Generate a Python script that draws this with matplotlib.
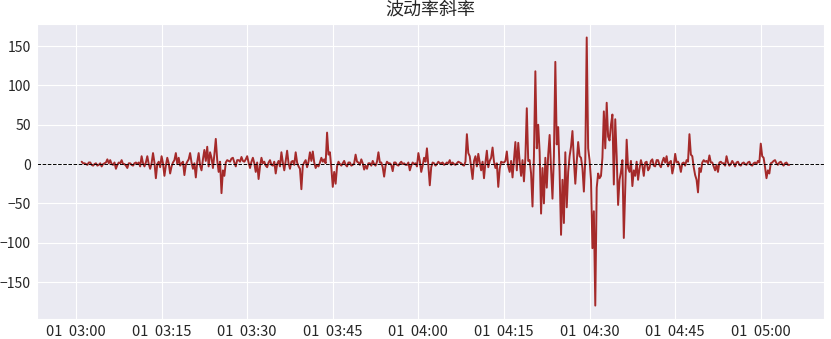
import numpy as np
import pandas as pd
import matplotlib
matplotlib.use("Agg")
import matplotlib.pyplot as plt
import matplotlib.dates as mdates
import seaborn as sns

sns.set_style("darkgrid")
plt.rcParams['font.family'] = ['Noto Sans CJK SC', 'DejaVu Sans']
plt.rcParams['axes.unicode_minus'] = True

# 15-second samples, 03:01 -> 05:05
start_time = "2024-03-01 03:01:00"
slope = [
    3, 1, 1, 0, -1, 2, 2, -1, -2, 0, 1, -2, -1, 1, -3, 0, 1, 2, 6, 1,
    5, 0, -1, 2, -6, -1, 2, 1, 5, 0, 0, -2, -5, 1, 1, -1, -2, 1, 2, 0,
    2, -3, 10, 1, -3, 2, 10, 0, -6, 1, 14, 2, -18, 0, 3, -4, 10, 1, -15, -2,
    8, 1, -12, -3, 2, 5, 14, 0, 8, -2, 1, 3, -14, -1, 3, 6, 14, 2, -6, 1,
    -17, 3, 14, -2, -8, 6, 18, 4, 22, -3, 15, 8, -5, 12, 32, 5, -10, 3, -37, -8,
    -15, 2, 5, 4, 3, 7, 8, 2, -3, 5, 5, 3, 9, 4, 3, 6, 10, 2, -5, 3,
    8, 1, -10, 2, -19, -3, 8, 1, 3, -2, -4, 2, 5, -1, -2, 3, -12, 0, 4, -3,
    15, 2, -8, 4, 17, 1, -6, 3, 4, -1, 15, 2, -3, -6, -32, -2, 2, 5, -4, 3,
    15, 4, 16, 2, -5, -1, -3, 2, 8, 3, 6, 1, 40, 12, 15, -5, -29, -10, -25, -3,
    3, 0, -2, 1, 4, -1, -3, 2, 2, -2, -1, 1, 12, 3, 2, -1, 6, 1, -7, -2,
    -6, 1, 1, -2, 4, 0, -2, 3, 15, 2, 2, -4, -16, -2, 3, 1, 1, -1, -9, 2,
    2, -1, -2, 1, 3, 0, 1, -1, -1, 2, -8, -2, 2, 0, 1, -3, 14, 4, -10, -2,
    8, 3, 20, -2, -27, -4, 2, 1, -2, 0, 3, 1, 1, 2, -1, 0, 2, 1, 5, -1,
    2, 0, -1, 1, 3, 2, 1, -1, -2, 3, 38, 14, 10, -5, -19, 4, 10, -3, 13, 2,
    -8, 3, -18, 2, 17, -4, 4, 8, 21, 3, -5, 1, -29, -6, 3, 2, 2, 4, 16, -3,
    -10, 4, -17, 6, 28, -8, 27, 3, -15, 5, -22, 8, 71, 4, 5, -12, -54, 10, 118, 20,
    50, 15, -63, -5, -50, 8, -30, 12, 37, -6, -44, 10, 130, 25, 47, -10, -90, -20, -75, 15,
    -55, -10, 10, 22, 42, 5, -25, 3, 28, 10, 8, -5, -35, 6, 161, 20, 5, -20, -107, -60,
    -180, -30, -12, -18, -15, 8, 67, 20, 78, 35, 30, 50, 63, -26, 57, 10, -52, -20, -10, 5,
    -94, -30, 31, -5, -10, 4, -28, -8, -15, 3, -20, -6, 5, -2, -15, 2, 3, -8, -5, 4,
    6, -2, -3, 5, 5, -1, -4, 3, 8, 2, 10, -3, 2, 4, -12, -3, 13, 2, 3, -1,
    -10, 1, 2, -2, 5, 3, 38, 12, 10, -4, -14, -20, -36, -5, -10, 2, 5, 3, 4, 1,
    11, 2, 2, -3, -8, -1, -10, 2, 3, 1, 1, -2, 10, 2, -2, 0, 4, 1, -3, 2,
    3, -1, -2, 1, 2, 0, -1, 2, 3, -1, -2, 1, 2, 0, 4, 2, 26, 10, 8, -4,
    -18, -8, -12, 1, 2, 4, 5, 1, -1, 2, 3, 0, -2, 1, 2, -1, -1,
]
times = pd.date_range(start_time, periods=len(slope), freq="15s")

fig, ax = plt.subplots(figsize=(8.31, 3.39), dpi=100)
fig.subplots_adjust(left=0.0445, right=0.9916, bottom=0.059, top=0.929)

ax.plot(times, slope, color='#a52a2a', lw=1.4)
ax.axhline(0, color='black', ls='--', lw=0.7)
ax.set_title("波动率斜率", fontsize=13)

ax.set_xlim(pd.Timestamp("2024-03-01 02:53:10"), pd.Timestamp("2024-03-01 05:11:05"))
ax.xaxis.set_major_locator(mdates.MinuteLocator(byminute=[0, 15, 30, 45]))
ax.xaxis.set_major_formatter(mdates.DateFormatter('%d  %H:%M'))
ax.tick_params(axis='x', labelsize=10.5, pad=1)
ax.tick_params(axis='y', labelsize=10, pad=1)

plt.savefig("out.png", dpi=100)
